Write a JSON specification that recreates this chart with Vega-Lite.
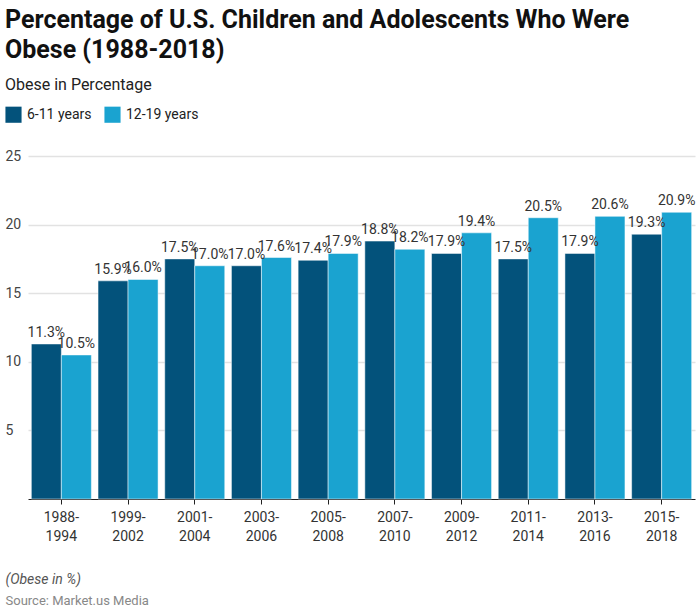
{
  "$schema": "https://vega.github.io/schema/vega-lite/v6.json",
  "autosize": {"type": "none"},
  "width": 667,
  "height": 343,
  "padding": {"left": 28, "top": 156, "right": 4, "bottom": 115},
  "background": "#ffffff",
  "title": {
    "text": ["Percentage of U.S. Children and Adolescents Who Were", "Obese (1988-2018)"],
    "subtitle": "Obese in Percentage",
    "anchor": "start",
    "frame": "group",
    "dx": -23,
    "offset": 13,
    "font": "Roboto",
    "fontSize": 25,
    "fontWeight": "bold",
    "color": "#111111",
    "lineHeight": 30,
    "subtitleFont": "Roboto",
    "subtitleFontSize": 16,
    "subtitleColor": "#222222",
    "subtitlePadding": 14
  },
  "data": {
    "values": [
      {"period": "1988-1994", "group": "6-11 years", "obese": 11.3},
      {"period": "1988-1994", "group": "12-19 years", "obese": 10.5},
      {"period": "1999-2002", "group": "6-11 years", "obese": 15.9},
      {"period": "1999-2002", "group": "12-19 years", "obese": 16.0},
      {"period": "2001-2004", "group": "6-11 years", "obese": 17.5},
      {"period": "2001-2004", "group": "12-19 years", "obese": 17.0},
      {"period": "2003-2006", "group": "6-11 years", "obese": 17.0},
      {"period": "2003-2006", "group": "12-19 years", "obese": 17.6},
      {"period": "2005-2008", "group": "6-11 years", "obese": 17.4},
      {"period": "2005-2008", "group": "12-19 years", "obese": 17.9},
      {"period": "2007-2010", "group": "6-11 years", "obese": 18.8},
      {"period": "2007-2010", "group": "12-19 years", "obese": 18.2},
      {"period": "2009-2012", "group": "6-11 years", "obese": 17.9},
      {"period": "2009-2012", "group": "12-19 years", "obese": 19.4},
      {"period": "2011-2014", "group": "6-11 years", "obese": 17.5},
      {"period": "2011-2014", "group": "12-19 years", "obese": 20.5},
      {"period": "2013-2016", "group": "6-11 years", "obese": 17.9},
      {"period": "2013-2016", "group": "12-19 years", "obese": 20.6},
      {"period": "2015-2018", "group": "6-11 years", "obese": 19.3},
      {"period": "2015-2018", "group": "12-19 years", "obese": 20.9}
    ]
  },
  "encoding": {
    "x": {
      "field": "period",
      "type": "nominal",
      "sort": null,
      "scale": {"paddingInner": 0.1, "paddingOuter": 0.05},
      "axis": {
        "title": "(Obese in %)",
        "titleFont": "Roboto",
        "titleFontSize": 14,
        "titleFontStyle": "italic",
        "titleFontWeight": "normal",
        "titleColor": "#555555",
        "titleAnchor": "start",
        "titleAlign": "left",
        "titleBaseline": "alphabetic",
        "titleX": -23,
        "titleY": 84,
        "labelExpr": "[split(datum.value, '-')[0] + '-', split(datum.value, '-')[1]]",
        "labelAngle": 0,
        "labelFont": "Roboto",
        "labelFontSize": 14,
        "labelColor": "#333333",
        "labelLineHeight": 19,
        "labelPadding": 6,
        "domain": true,
        "domainColor": "#222222",
        "ticks": true,
        "tickColor": "#222222",
        "tickSize": 5,
        "grid": false
      }
    },
    "y": {
      "field": "obese",
      "type": "quantitative",
      "scale": {"domain": [0, 25]},
      "axis": {
        "values": [5, 10, 15, 20, 25],
        "title": "Source: Market.us Media",
        "titleFont": "Roboto",
        "titleFontSize": 13,
        "titleFontWeight": "normal",
        "titleColor": "#888888",
        "titleAngle": 0,
        "titleAlign": "left",
        "titleBaseline": "alphabetic",
        "titleX": -23,
        "titleY": 448,
        "labelFont": "Roboto",
        "labelFontSize": 14,
        "labelColor": "#444444",
        "labelAlign": "left",
        "labelPadding": 23,
        "domain": false,
        "ticks": false,
        "grid": true,
        "gridColor": "#e2e2e2",
        "gridWidth": 1.5
      }
    },
    "xOffset": {"field": "group", "type": "nominal", "sort": ["6-11 years", "12-19 years"]}
  },
  "layer": [
    {
      "mark": {"type": "bar", "stroke": "#ffffff", "strokeWidth": 0.5},
      "encoding": {
        "color": {
          "field": "group",
          "type": "nominal",
          "sort": ["6-11 years", "12-19 years"],
          "scale": {"domain": ["6-11 years", "12-19 years"], "range": ["#03527b", "#1aa3d0"]},
          "legend": {
            "title": null,
            "orient": "none",
            "direction": "horizontal",
            "legendX": -23,
            "legendY": -50,
            "symbolType": "square",
            "symbolSize": 260,
            "symbolStrokeWidth": 0,
            "labelFont": "Roboto",
            "labelFontSize": 14,
            "labelColor": "#222222",
            "columnPadding": 12,
            "labelOffset": 5
          }
        }
      }
    },
    {
      "transform": [{"calculate": "format(datum.obese, '.1f') + '%'", "as": "label"}],
      "mark": {"type": "text", "baseline": "bottom", "dy": -4, "font": "Roboto", "fontSize": 14, "color": "#333333"},
      "encoding": {
        "text": {"field": "label", "type": "nominal"},
        "detail": {"field": "group"}
      }
    }
  ],
  "config": {
    "view": {"stroke": null}
  }
}
